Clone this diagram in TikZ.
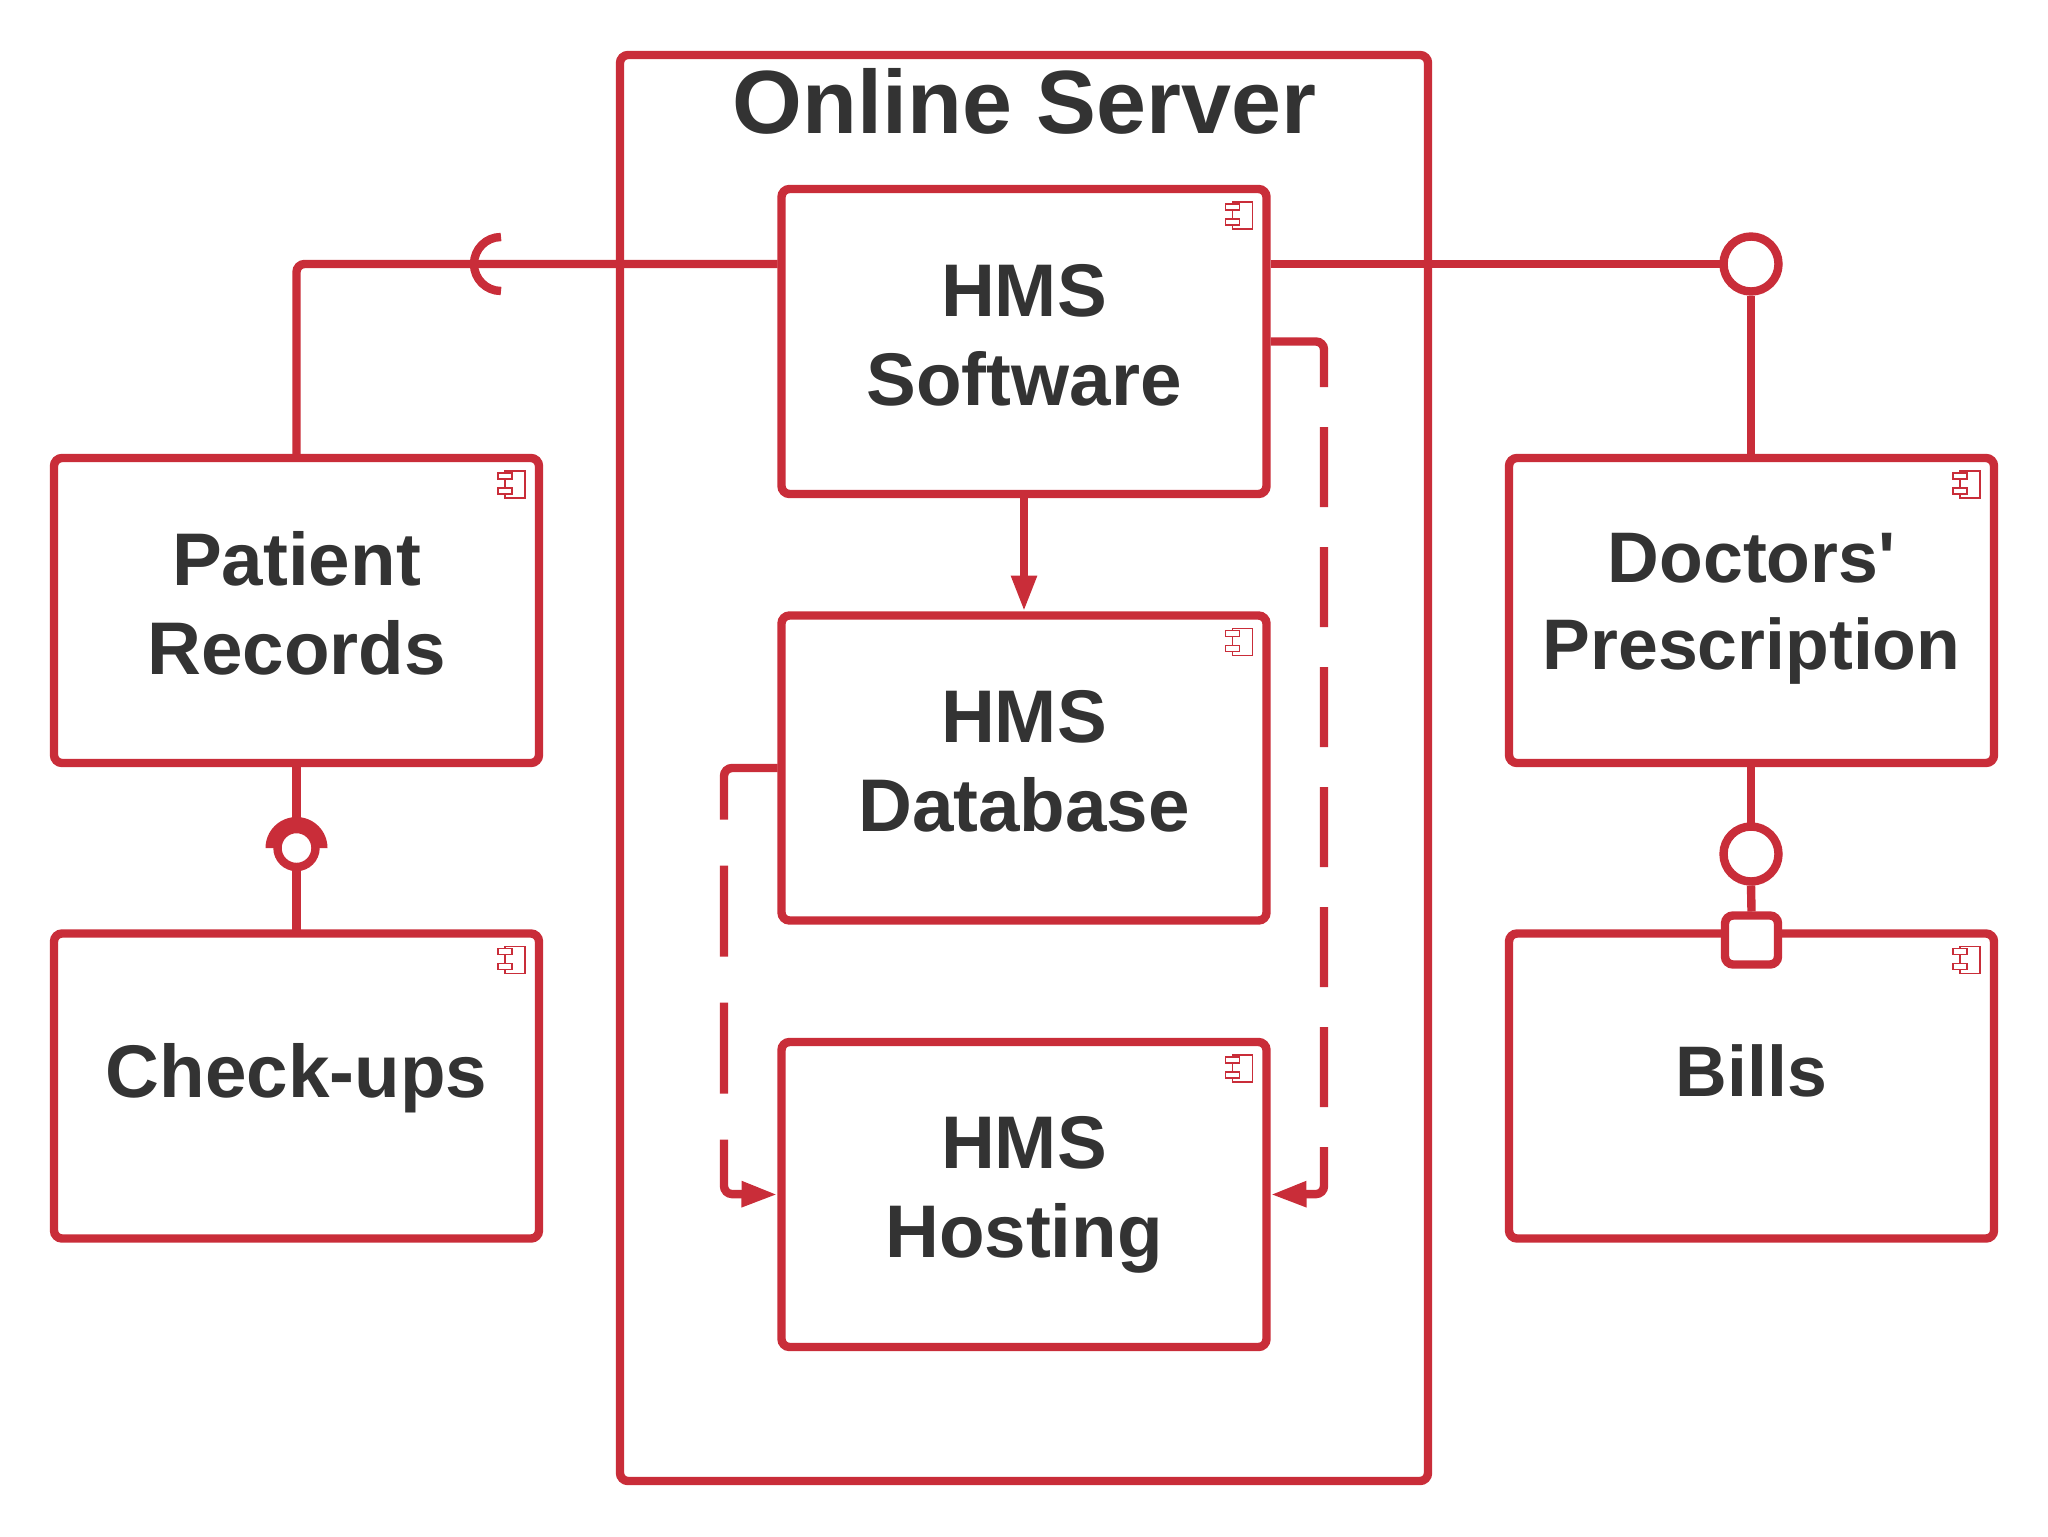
\documentclass[tikz,border=0pt]{standalone}
\usepackage{fontspec}
\newfontfamily\lblfont{Liberation Sans}
\usetikzlibrary{arrows.meta,calc}
\definecolor{umlred}{HTML}{C92D39}
\definecolor{umltext}{HTML}{333333}
\tikzset{
  x=0.5pt,y=-0.5pt,
  wire/.style={draw=umlred,line width=4.2pt,rounded corners=4pt},
  arrowed/.style={-{Triangle[length=18pt,width=12pt,color=umlred]}},
  compbox/.style={draw=umlred,fill=white,line width=4.2pt,rounded corners=4pt,minimum width=242.5pt,minimum height=152.5pt,inner sep=0pt,outer sep=2pt},
  frame/.style={draw=umlred,line width=4.2pt,rounded corners=4pt,minimum width=404pt,minimum height=713pt,inner sep=0pt},
  lbl/.style={text=umltext,font=\lblfont\fontsize{37.3}{44.5}\selectfont\bfseries,align=center,inner sep=0pt},
  lblsmall/.style={text=umltext,font=\lblfont\fontsize{35.8}{43.5}\selectfont\bfseries,align=center,inner sep=0pt},
  ifc/.style={circle,draw=umlred,fill=white,line width=4.2pt,minimum size=27.5pt,inner sep=0pt,outer sep=2pt},
  port/.style={rectangle,draw=umlred,fill=white,line width=4.2pt,rounded corners=4pt,minimum width=26.5pt,minimum height=24.5pt,inner sep=0pt,outer sep=2pt},
  hook/.style={draw=umlred,line width=4.2pt},
  iconpart/.style={draw=umlred,fill=white,line width=0.7pt},
  compicon/.pic={
    \path[iconpart] (-34,13) rectangle (-14,40);
    \path[iconpart] (-41,15) rectangle (-27,21);
    \path[iconpart] (-41,30) rectangle (-27,36);
  }
}
\begin{document}
\begin{tikzpicture}
\useasboundingbox (0,0) rectangle (2048,1536);
% frame
\node[frame] (server) at (1024,768) {};
\node[text=umltext,font=\lblfont\fontsize{44.9}{52}\selectfont\bfseries,inner sep=0pt] (servertitle) at (1024.5,101) {Online Server};
% components
\node[compbox] (software) at (1024,341.5) {};
\node[compbox] (database) at (1024,768) {};
\node[compbox] (hosting) at (1024,1194.5) {};
\node[compbox] (patient) at (296.5,610.5) {};
\node[compbox] (checkups) at (296.5,1086) {};
\node[compbox] (doctors) at (1751.5,610.5) {};
\node[compbox] (bills) at (1751.5,1086) {};
\foreach \n in {software,database,hosting,patient,checkups,doctors,bills}
  \path ($(\n.north east)+(-2pt,-2pt)$) pic {compicon};
% labels
\node[lbl] (softwarelabel) at (1024,335) {HMS\\Software};
\node[lbl] (databaselabel) at (1024,761) {HMS\\Database};
\node[lbl] (hostinglabel) at (1024,1195) {HMS\\Hosting};
\node[lbl] (patientlabel) at (296.5,603) {Patient\\Records};
\node[lbl] (checkupslabel) at (296.5,1078) {Check-ups};
\node[lblsmall] (doctorslabel) at (1751.5,608.5) {Doctors'\\Prescription};
\node[lblsmall] (billslabel) at (1751.5,1070.5) {Bills};
% interfaces
\coordinate (socket) at (501,264);
\node[ifc] (provided) at (1751,264) {};
\coordinate (ball) at (296.5,848);
\node[ifc] (lower) at (1751,854) {};
\node[port] (billsport) at (1751.5,940) {};
% connectors
\draw[wire] (software.west |- socket) -| (patient.north);
\draw[hook] ($(socket)+(0,-27)$) arc[start angle=90,end angle=270,radius=13.5pt];
\draw[wire] (software.east |- provided) -- (provided.west);
\draw[wire] (provided.south) -- (provided.south |- doctors.north);
\draw[wire] (doctors.south -| lower) -- (lower.north);
\draw[wire] (lower.south) -- (billsport.north);
\draw[wire] (patient.south) -- (checkups.north);
\fill[umlred] ($(ball)+(-31,0)$) arc[start angle=180,end angle=0,radius=15.5pt] -- cycle;
\node[ifc,minimum size=19pt] (ballnode) at (ball) {};
\draw[wire,arrowed] (software.south) -- (database.north);
\draw[wire,arrowed,dash pattern=on 47.8pt off 20pt on 40pt off 20pt on 40pt off 20pt on 40pt off 20pt on 40pt off 20pt on 40pt off 20pt on 40pt off 20pt on 100pt]
  (software.east) -| (1324,1194) -- (hosting.east);
\draw[wire,arrowed,dash pattern=on 50.8pt off 23pt on 45.5pt off 23pt on 45.5pt off 23pt on 100pt]
  (database.west) -| (724,1194) -- (hosting.west);
\end{tikzpicture}
\end{document}
